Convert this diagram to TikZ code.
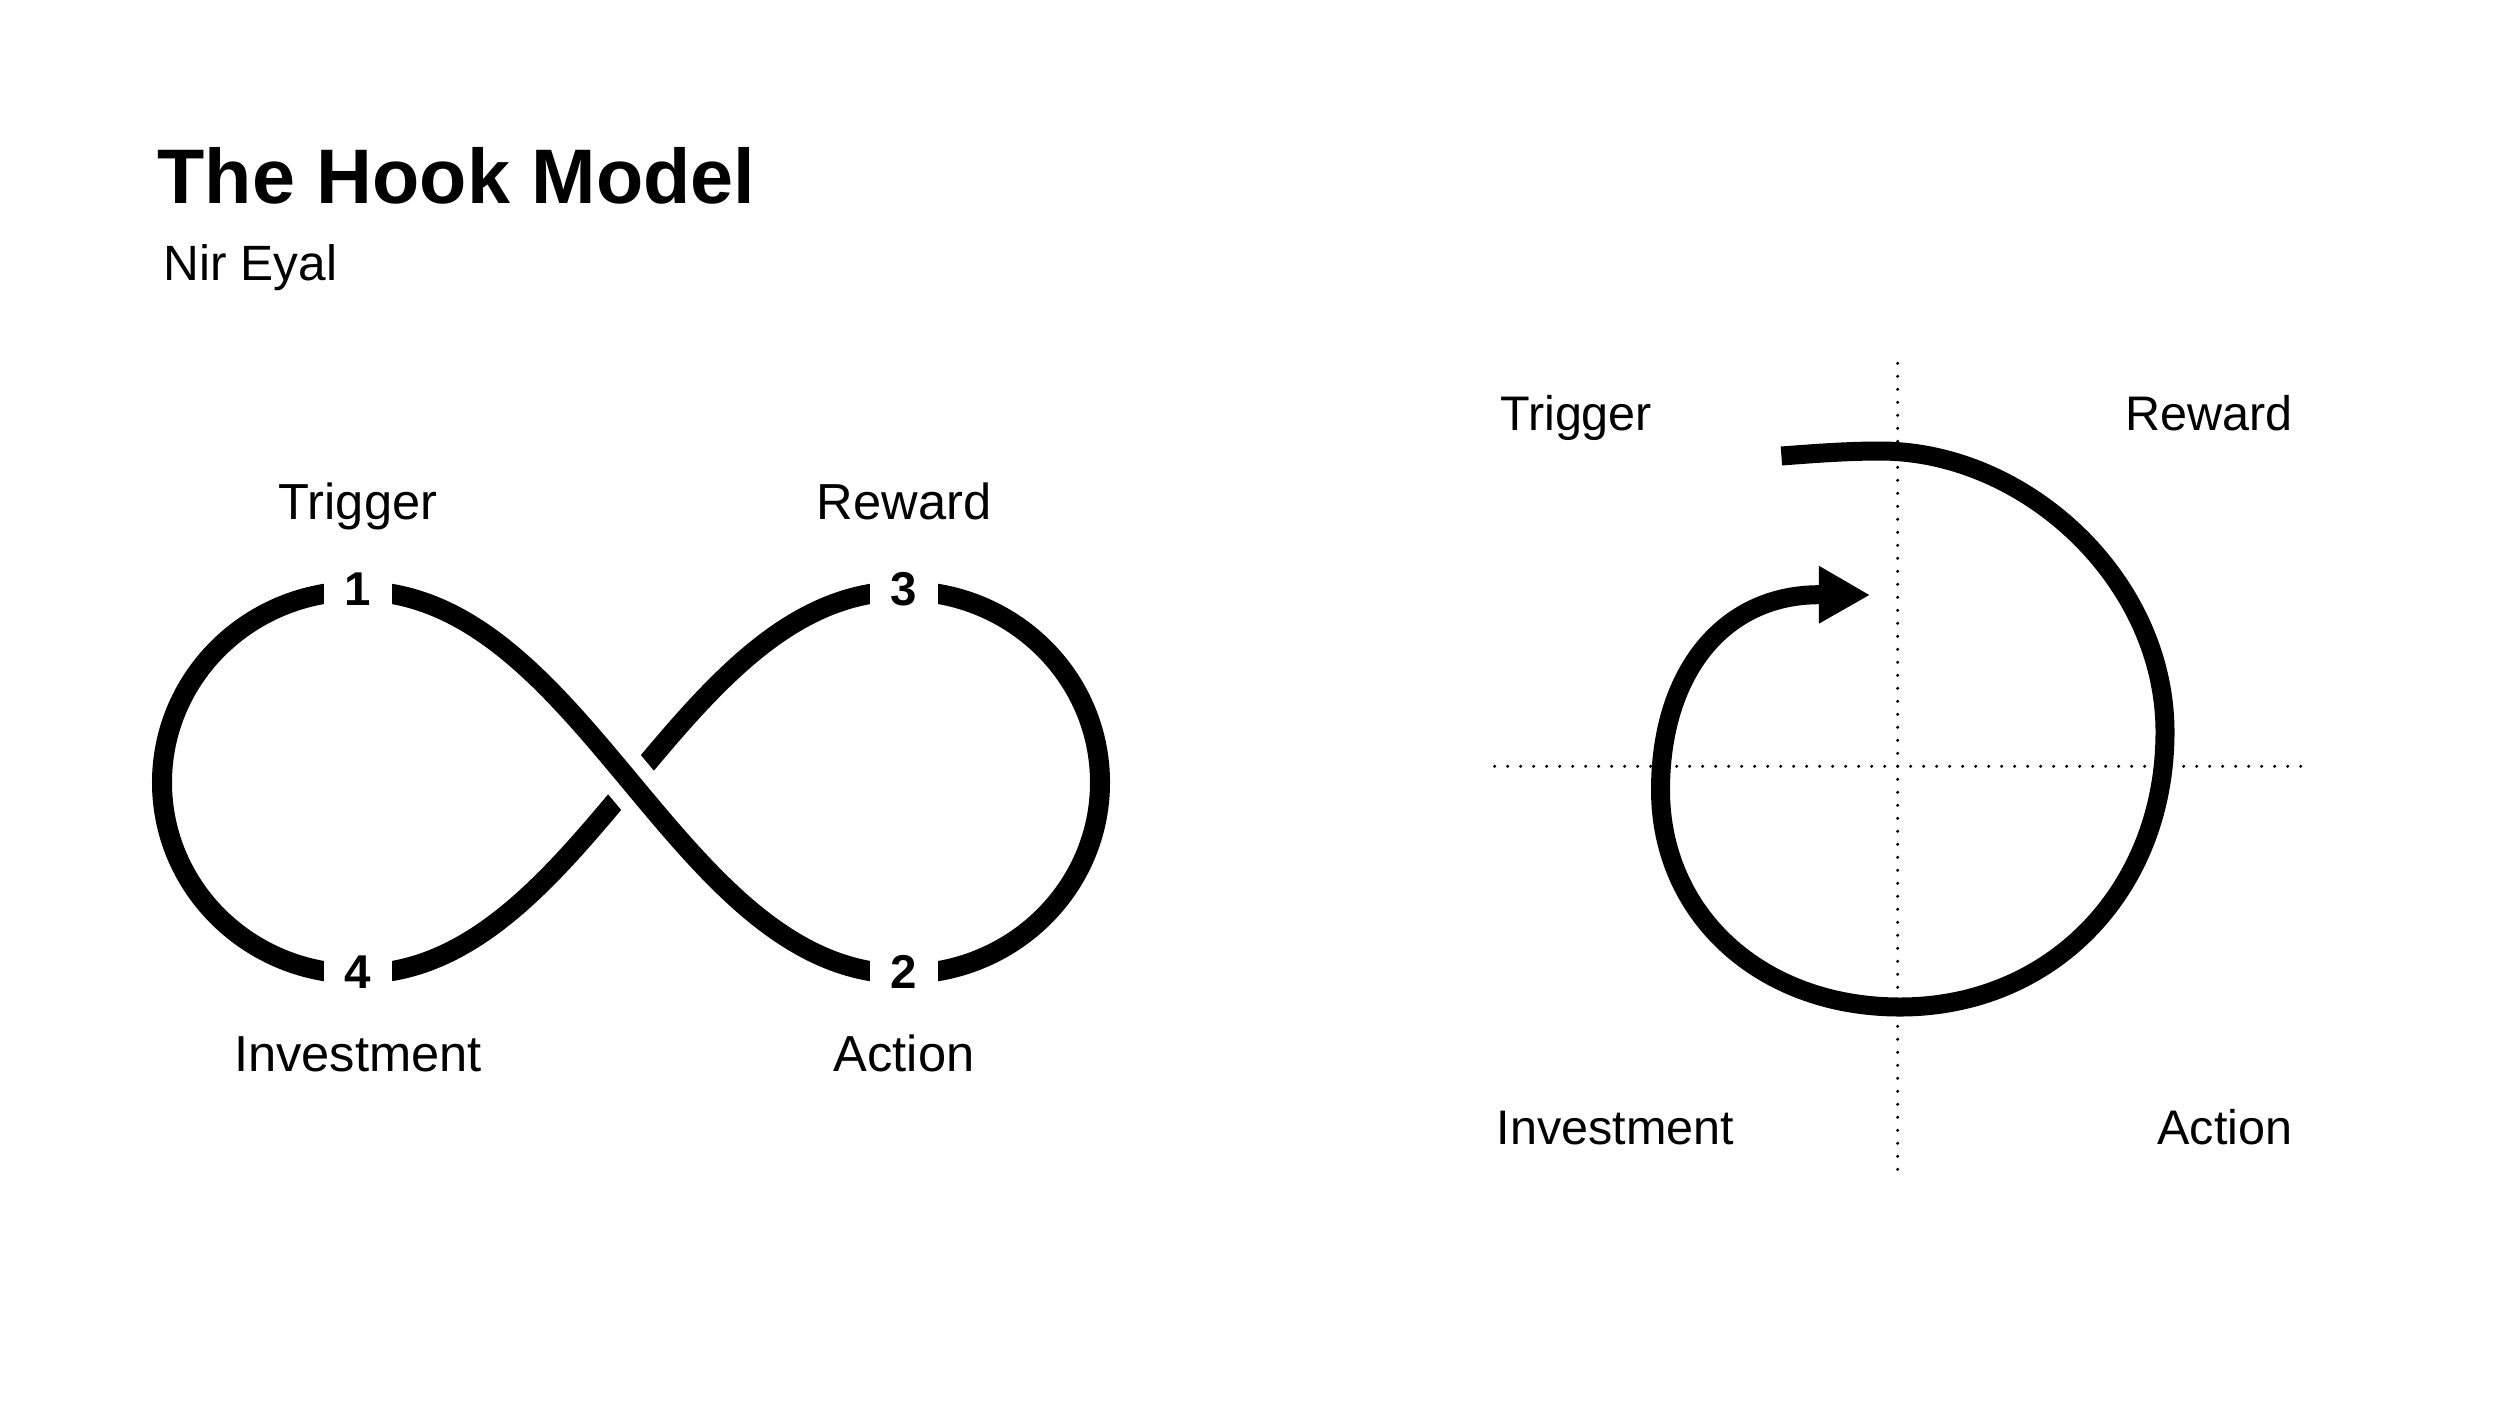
\documentclass[tikz,border=0pt]{standalone}
\usepackage{fontspec}
\setmainfont{Liberation Sans}
\begin{document}
\begin{tikzpicture}[x=0.01cm,y=-0.01cm,
  inf/.style={line width=0.2cm},
  spir/.style={line width=0.19cm},
  lbl/.style={font=\fontsize{14.4}{17}\selectfont, inner sep=0pt},
  rlbl/.style={font=\fontsize{13.8}{17}\selectfont, inner sep=0pt},
  num/.style={font=\bfseries\fontsize{13.5}{16}\selectfont, fill=white, inner sep=0pt, minimum width=0.675cm, minimum height=0.5cm},
  gapline/.style={white, line width=0.5cm}]

\fill[white] (0,0) rectangle (2500,1406);
\useasboundingbox (0,0) rectangle (2500,1406);

% title
\node[anchor=base west, inner sep=0pt, font=\bfseries\fontsize{22}{26}\selectfont] (title) at (157,203.6) {The Hook Model};
\node[anchor=base west, inner sep=0pt, font=\fontsize{14.1}{17}\selectfont] (author) at (163,280.3) {Nir Eyal};

% ---------- infinity ----------
\coordinate (p1) at (358,591);
\coordinate (p2) at (904,974);
\coordinate (p3) at (904,591);
\coordinate (p4) at (358,974);
\coordinate (pl) at (162,782.5);
\coordinate (pr) at (1100,782.5);

\draw[inf] (p3) .. controls +(-227,0) and +(227,0) .. (p4)
  .. controls +(-108.3,0) and +(0,105.8) .. (pl)
  .. controls +(0,-105.8) and +(-108.3,0) .. (p1);
\draw[inf] (p2) .. controls +(108.3,0) and +(0,105.8) .. (pr)
  .. controls +(0,-105.8) and +(108.3,0) .. (p3);
\draw[gapline] (p1) .. controls +(227,0) and +(-227,0) .. (p2);
\draw[inf] (p1) .. controls +(227,0) and +(-227,0) .. (p2);

\node[num] (n1) at (358,589) {1};
\node[num] (n3) at (904,589) {3};
\node[num] (n4) at (358,972) {4};
\node[num] (n2) at (904,972) {2};

\node[lbl, anchor=base] (lt) at (358,519) {Trigger};
\node[lbl, anchor=base] (lr) at (904,519) {Reward};
\node[lbl, anchor=base] (li) at (358,1071.5) {Investment};
\node[lbl, anchor=base] (la) at (904,1071.5) {Action};

% ---------- spiral ----------
\foreach \i in {-31,...,31}{
  \fill (1897.7+\i*13,766.3) circle (0.48pt);
  \fill (1897.7,766.3+\i*13) circle (0.48pt);
}

\coordinate (s0) at (1781.4,456);
\coordinate (sT) at (1880,451);
\coordinate (sR) at (2165,732);
\coordinate (sB) at (1900,1007);
\coordinate (sL) at (1660.5,790);
\coordinate (sE) at (1819,594.7);
\coordinate (sE2) at (1832,594.8);
\draw[spir] (s0) .. controls +(33,-2.5) and +(-33,0) .. (sT)
  .. controls +(146,0) and +(0,-152) .. (sR)
  .. controls +(0,158) and +(152,0) .. (sB)
  .. controls +(-140,0) and +(0,124) .. (sL)
  .. controls +(0,-118) and +(-95,0) .. (sE) -- (sE2);
\coordinate (ab1) at (1818.8,565.7);
\coordinate (atip) at (1869.2,595);
\coordinate (ab2) at (1818.8,623.7);
\fill (ab1) -- (atip) -- (ab2) -- cycle;

\node[rlbl, anchor=base west] (rt) at (1499.5,430.2) {Trigger};
\node[rlbl, anchor=base east] (rr) at (2293.5,430.2) {Reward};
\node[rlbl, anchor=base west] (ri) at (1496,1144) {Investment};
\node[rlbl, anchor=base east] (ra) at (2293,1144) {Action};
\end{tikzpicture}
\end{document}
